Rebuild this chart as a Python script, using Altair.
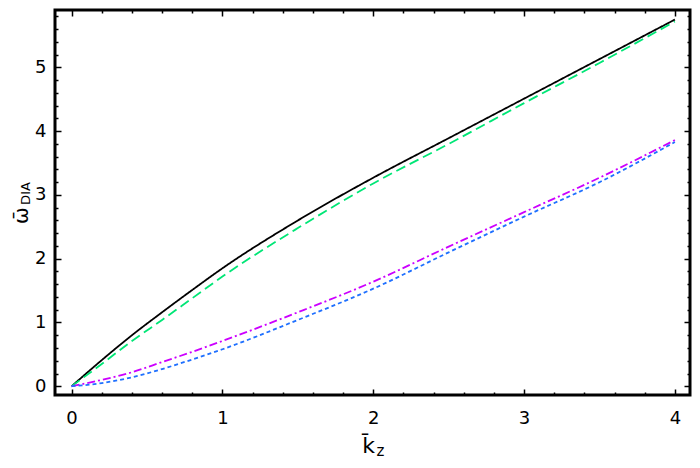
import altair as alt
import pandas as pd

# ---- data ----
k_z = [0.0, 0.2, 0.4, 0.6, 0.8, 1.0, 1.5, 2.0, 2.5, 3.0, 3.5, 4.0]
solid_black = [0.0, 0.41, 0.80, 1.16, 1.51, 1.85, 2.60, 3.27, 3.89, 4.51, 5.13, 5.75]
dashed_green = [0.0, 0.35, 0.71, 1.04, 1.38, 1.72, 2.48, 3.18, 3.80, 4.44, 5.07, 5.72]
dashdot_magenta = [0.0, 0.10, 0.22, 0.38, 0.54, 0.71, 1.16, 1.64, 2.19, 2.73, 3.27, 3.86]
dotted_blue = [0.0, 0.05, 0.14, 0.27, 0.42, 0.58, 1.04, 1.53, 2.10, 2.66, 3.20, 3.83]

series_names = ["solid", "dashed", "dashdot", "dotted"]
series_values = [solid_black, dashed_green, dashdot_magenta, dotted_blue]
series_colors = ["#000000", "#00e676", "#cc00ff", "#1f70ff"]
series_dash = [[1, 0], [10, 5], [8, 3, 2, 3], [4, 3]]

x_ticks = [0.0, 0.2, 0.4, 0.6, 0.8, 1.0, 1.2, 1.4, 1.6, 1.8, 2.0, 2.2, 2.4, 2.6,
           2.8, 3.0, 3.2, 3.4, 3.6, 3.8, 4.0]
y_ticks = [0.0, 0.2, 0.4, 0.6, 0.8, 1.0, 1.2, 1.4, 1.6, 1.8, 2.0, 2.2, 2.4, 2.6,
           2.8, 3.0, 3.2, 3.4, 3.6, 3.8, 4.0, 4.2, 4.4, 4.6, 4.8, 5.0, 5.2, 5.4,
           5.6, 5.8]
x_domain = [-0.11, 4.10]
y_domain = [-0.137, 5.90]

rows = []
for name, vals in zip(series_names, series_values):
    for xv, yv in zip(k_z, vals):
        rows.append({"k": xv, "w": yv, "series": name})
df = pd.DataFrame(rows)

W, H = 635, 385
FONT = "DejaVu Sans"
is_major = "abs(datum.value - round(datum.value)) < 1e-6"
tick_size = {"condition": {"test": is_major, "value": 6}, "value": 3}
label_expr = f"({is_major}) ? format(datum.value, 'd') : ''"

xs = alt.Scale(domain=x_domain, nice=False, zero=False)
ys = alt.Scale(domain=y_domain, nice=False, zero=False)
color = alt.Color("series:N", scale=alt.Scale(domain=series_names, range=series_colors), legend=None)
dash = alt.StrokeDash("series:N", scale=alt.Scale(domain=series_names, range=series_dash), legend=None)

common_axis = dict(domain=False, grid=False, tickColor="black", tickWidth=1.5,
                   labelFont=FONT, labelFontSize=18, labelColor="black",
                   labelOverlap=False, labelFlush=False, labelBound=False, title=None)

# bottom-orient axis moved to the top edge: ticks point inward, labels pushed below the plot
lines = alt.Chart(df).mark_line(strokeWidth=1.8, interpolate="monotone", clip=True).encode(
    x=alt.X("k:Q", scale=xs, axis=alt.Axis(orient="bottom", offset=-H, values=x_ticks,
                                           tickSize=tick_size, labelExpr=label_expr,
                                           labelPadding=H + 8, **common_axis)),
    y=alt.Y("w:Q", scale=ys, axis=alt.Axis(orient="left", offset=-W, values=y_ticks,
                                           tickSize=tick_size, labelExpr=label_expr,
                                           labelPadding=W + 3, **common_axis)),
    color=color,
    strokeDash=dash,
    detail="series:N",
)

# top/right axes moved to bottom/left edges: inward ticks only
ghost = alt.Chart(df).mark_line(opacity=0).encode(
    x=alt.X("k:Q", scale=xs, axis=alt.Axis(orient="top", offset=-H, values=x_ticks,
                                           tickSize=tick_size, labels=False, **common_axis)),
    y=alt.Y("w:Q", scale=ys, axis=alt.Axis(orient="right", offset=-W, values=y_ticks,
                                           tickSize=tick_size, labels=False, **common_axis)),
    detail="series:N",
)

title_df = pd.DataFrame({"t": ["x"]})
xt_main = alt.Chart(title_df).mark_text(text="k\u0304", font=FONT, fontSize=22, color="black",
                                        align="center", baseline="alphabetic").encode(
    x=alt.value(W / 2 - 4), y=alt.value(H + 58))
xt_sub = alt.Chart(title_df).mark_text(text="z", font=FONT, fontSize=15, color="black",
                                       align="center", baseline="alphabetic").encode(
    x=alt.value(W / 2 + 8), y=alt.value(H + 61))
yt_main = alt.Chart(title_df).mark_text(text="\u03c9\u0304", font=FONT, fontSize=20, color="black",
                                        align="center", baseline="alphabetic", angle=270).encode(
    x=alt.value(-27), y=alt.value(H / 2 + 13))
yt_sub = alt.Chart(title_df).mark_text(text="DIA", font=FONT, fontSize=13, color="black",
                                       align="center", baseline="alphabetic", angle=270).encode(
    x=alt.value(-25), y=alt.value(H / 2 - 9))

chart = alt.layer(lines, ghost, xt_main, xt_sub, yt_main, yt_sub).resolve_axis(
    x="independent", y="independent"
).properties(
    width=W, height=H,
    autosize=alt.AutoSizeParams(type="none"),
    padding={"left": 47, "top": 2, "right": 2, "bottom": 65},
).configure_view(stroke="black", strokeWidth=3)

chart.save("out.html", embed_options={"renderer": "svg", "actions": False})
